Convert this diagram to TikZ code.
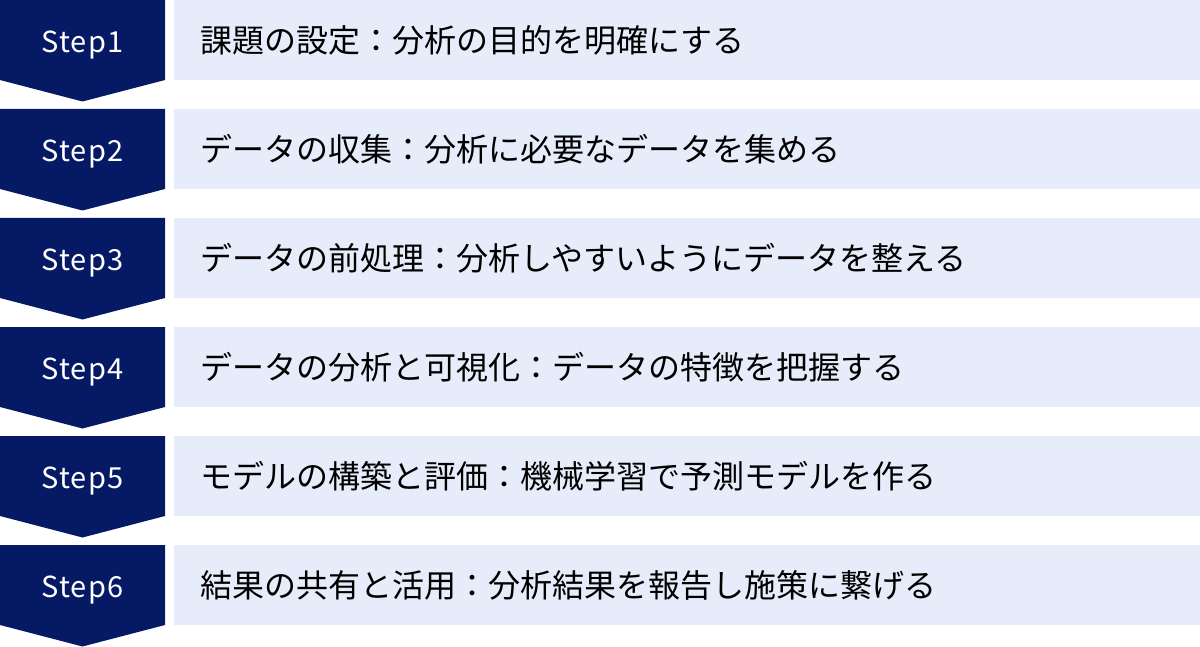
\documentclass[tikz,border=0pt]{standalone}
\usepackage{fontspec}
\newfontfamily\jpfont{Noto Sans CJK JP}
\newfontfamily\stepfont{Noto Sans CJK JP}[LetterSpace=4]
\usepackage{xcolor}
\usetikzlibrary{positioning, calc}
\definecolor{stepnavy}{HTML}{061965}
\definecolor{rowblue}{HTML}{E6ECF9}

\begin{document}
\begin{tikzpicture}[x=1pt, y=-1pt,
    steplabel/.style={text=white, inner sep=0pt, anchor=base, font=\stepfont\fontsize{29}{34}\selectfont},
    rowbox/.style={fill=rowblue, anchor=north west, inner sep=0pt, minimum width=1026pt, minimum height=80pt},
    rowtext/.style={inner sep=0pt, font=\jpfont\fontsize{32}{38}\selectfont}]
    \useasboundingbox (0,0) rectangle (1200,647);

    % One row per step: chevron, label and description box
    \foreach \i/\txt in {1/{課題の設定：分析の目的を明確にする},
                         2/{データの収集：分析に必要なデータを集める},
                         3/{データの前処理：分析しやすいようにデータを整える},
                         4/{データの分析と可視化：データの特徴を把握する},
                         5/{モデルの構築と評価：機械学習で予測モデルを作る},
                         6/{結果の共有と活用：分析結果を報告し施策に繋げる}} {
        \pgfmathsetmacro\t{(\i-1)*109}
        % Chevron pointing down
        \fill[stepnavy] (0,\t) -- (165,\t) -- (165,\t+80) -- (82.5,\t+101.5) -- (0,\t+80) -- cycle;
        \node[steplabel] (step\i) at (82.5,\t+52.5) {Step\i};
        % Description box
        \node[rowbox] (box\i) at (174,\t) {};
        \node[rowtext, right=26pt of box\i.west] (text\i) {\txt};
    }
\end{tikzpicture}
\end{document}
